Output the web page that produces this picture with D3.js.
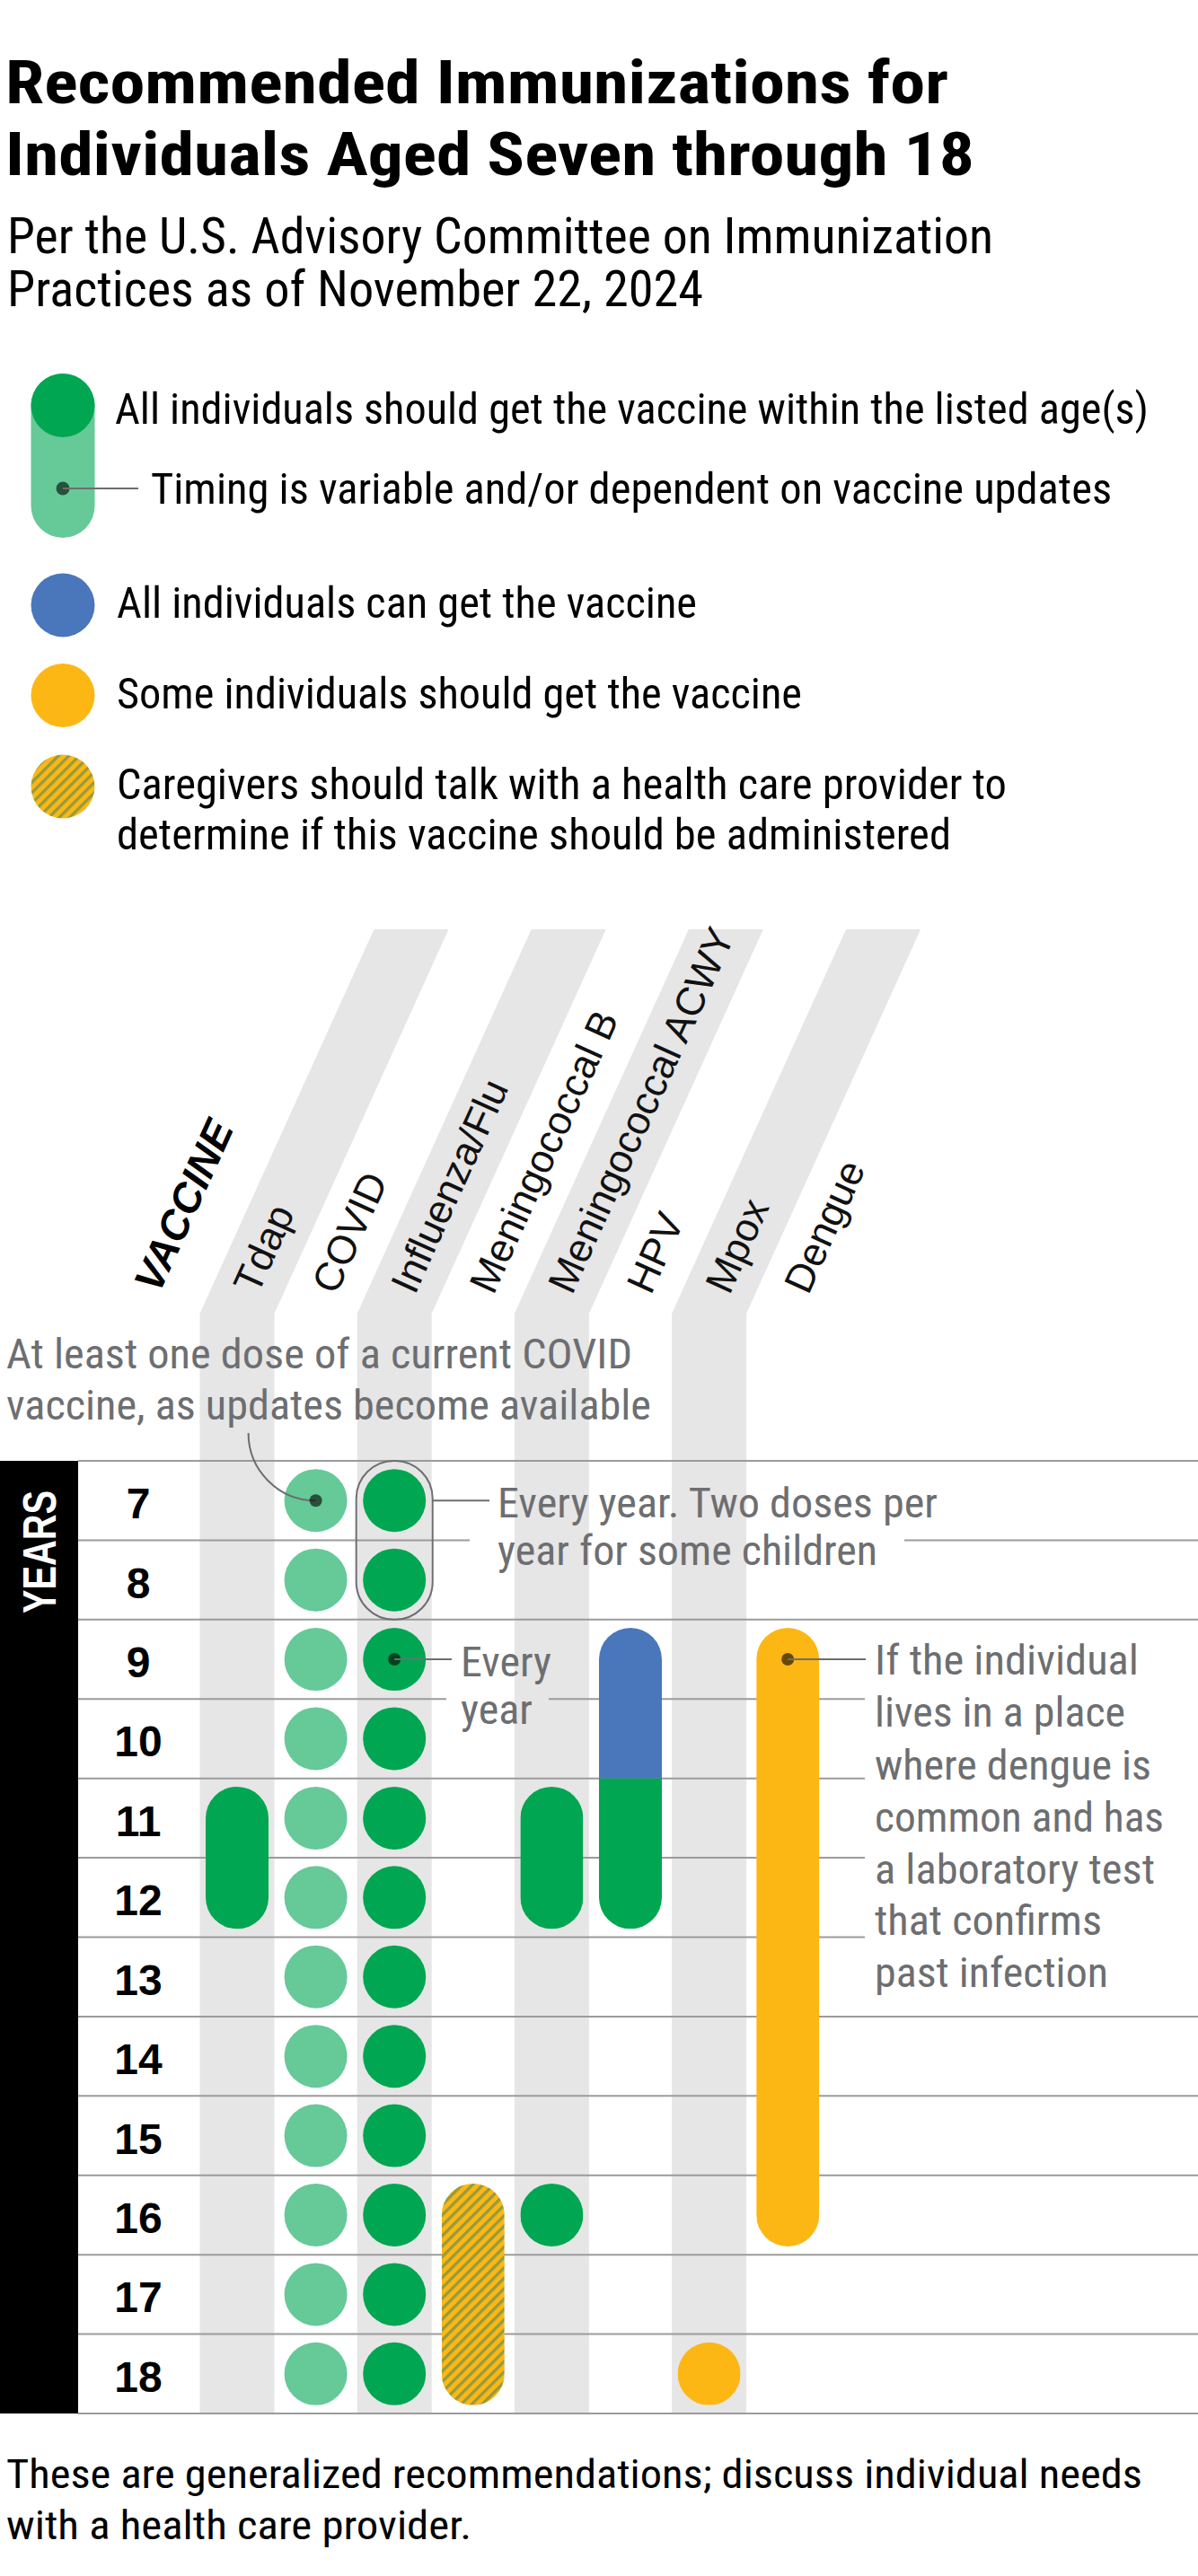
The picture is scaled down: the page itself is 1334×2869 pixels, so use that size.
<!DOCTYPE html>
<html>
<head>
<meta charset="utf-8">
<script src="https://cdn.jsdelivr.net/npm/d3@7"></script>
<style>
  body { margin: 0; background: #fff; }
  svg { display: block; }
</style>
</head>
<body>
<svg id="chart" width="1334" height="2869"></svg>
<script>
// ---------------- DATA ----------------
const vaccines = ["Tdap", "COVID", "Influenza/Flu", "Meningococcal B", "Meningococcal ACWY", "HPV", "Mpox", "Dengue"];
const ages = [7, 8, 9, 10, 11, 12, 13, 14, 15, 16, 17, 18];

// single-year doses shown as separate circles
const covidAges = [7, 8, 9, 10, 11, 12, 13, 14, 15, 16, 17, 18];   // status: variable
const fluAges   = [7, 8, 9, 10, 11, 12, 13, 14, 15, 16, 17, 18];   // status: should

// age ranges shown as pills (segments share one pill)
const schedule = [
  { vaccine: "Tdap",               segments: [{ from: 11, to: 12, status: "should" }] },
  { vaccine: "Meningococcal B",    segments: [{ from: 16, to: 18, status: "discuss" }] },
  { vaccine: "Meningococcal ACWY", segments: [{ from: 11, to: 12, status: "should" }] },
  { vaccine: "Meningococcal ACWY", segments: [{ from: 16, to: 16, status: "should" }] },
  { vaccine: "HPV",                segments: [{ from: 9, to: 10, status: "can" }, { from: 11, to: 12, status: "should" }] },
  { vaccine: "Mpox",               segments: [{ from: 18, to: 18, status: "some" }] },
  { vaccine: "Dengue",             segments: [{ from: 9, to: 16, status: "some" }] }
];

const legendItems = [
  { status: "should",   lines: ["All individuals should get the vaccine within the listed age(s)"] },
  { status: "variable", lines: ["Timing is variable and/or dependent on vaccine updates"] },
  { status: "can",      lines: ["All individuals can get the vaccine"] },
  { status: "some",     lines: ["Some individuals should get the vaccine"] },
  { status: "discuss",  lines: ["Caregivers should talk with a health care provider to", "determine if this vaccine should be administered"] }
];

const titleLines = ["Recommended Immunizations for", "Individuals Aged Seven through 18"];
const subtitleLines = ["Per the U.S. Advisory Committee on Immunization", "Practices as of November 22, 2024"];
const footnoteLines = ["These are generalized recommendations; discuss individual needs", "with a health care provider."];
const axisTitles = { columns: "VACCINE", rows: "YEARS" };

const annotations = [
  { id: "covid",    vaccine: "COVID",         age: 7, lines: ["At least one dose of a current COVID", "vaccine, as updates become available"] },
  { id: "fluTwo",   vaccine: "Influenza/Flu", age: 7, lines: ["Every year. Two doses per", "year for some children"] },
  { id: "fluEvery", vaccine: "Influenza/Flu", age: 9, lines: ["Every", "year"] },
  { id: "dengue",   vaccine: "Dengue",        age: 9, lines: ["If the individual", "lives in a place", "where dengue is", "common and has", "a laboratory test", "that confirms", "past infection"] }
];

// ---------------- STYLE / LAYOUT ----------------
const colors = {
  should: "#00a651", variable: "#66c998", can: "#4a77bb", some: "#fdb714",
  discuss: "url(#hatch)", hatchStripe: "#969b3c",
  band: "#e6e6e6", grid: "#9b9b9b", note: "#6d6e71", ink: "#000"
};
const condensed = "'Roboto Condensed', Roboto, 'Liberation Sans', sans-serif";
const grotesk = "'Liberation Sans', Arial, Helvetica, sans-serif";

const R = 35;
const slant = { top: 1035, bottom: 1463, dx: 194 };
const bandW = 83;

const layout = {
  title: { x: 6, y: [115, 195], size: 67, w: [1050, 1079] },
  subtitle: { x: 8, y: [281.5, 341], size: 56, w: [1098, 775] },
  legend: {
    cx: 70, r: 35.5,
    text: [
      { x: 128, y: [471.5], w: [1151] },
      { x: 168, y: [561], w: [1070] },
      { x: 130, y: [688], w: [646] },
      { x: 130, y: [789], w: [763] },
      { x: 130, y: [890, 945.5], w: [991, 929] }
    ],
    shapeY: { pillTop: 416, pillBottom: 599, should: 451.5, dot: 544, can: 674, some: 774.5, discuss: 876 },
    size: 48.5
  },
  notes: {
    covid:    { x: 7,   y: [1524, 1581], w: [697, 718] },
    fluTwo:   { x: 554, y: [1690, 1743], w: [490, 423] },
    fluEvery: { x: 513, y: [1867, 1920], w: [101, 80] },
    dengue:   { x: 974, y: [1865, 1923, 1982, 2040, 2098, 2155, 2213], w: [294, 279, 308, 322, 312, 253, 260] },
    size: 46.5
  },
  footnote: { x: 7, y: [2771, 2828], size: 44.5, w: [1265, 518] }
};

// ---------------- SCALES ----------------
const svg = d3.select("#chart");
const W = +svg.attr("width");

const x = d3.scaleBand().domain(vaccines).range([220.2, 220.2 + 87.6 * vaccines.length]);
const y = d3.scaleBand().domain(ages).range([1627, 2688]);
const xc = v => x(v) + x.bandwidth() / 2;
const yc = a => y(a) + y.bandwidth() / 2;
const yEnd = y.range()[1];
const gridLeft = 87;

// ---------------- DEFS ----------------
const defs = svg.append("defs");
const hp = 8.2;
const hatch = defs.append("pattern").attr("id", "hatch")
  .attr("patternUnits", "userSpaceOnUse").attr("width", hp).attr("height", hp)
  .attr("patternTransform", "rotate(45)");
hatch.append("rect").attr("width", hp).attr("height", hp).attr("fill", colors.some);
hatch.append("rect").attr("width", 3.3).attr("height", hp).attr("fill", colors.hatchStripe);

// mask that opens gaps in grid lines behind annotation text
const mask = defs.append("mask").attr("id", "gridMask").attr("maskUnits", "userSpaceOnUse")
  .attr("x", 0).attr("y", 0).attr("width", W).attr("height", 2869);
mask.append("rect").attr("width", W).attr("height", 2869).attr("fill", "#fff");
const gaps = [
  [523, y(8) - 10, 1007 - 523, 20],
  [497, y(10) - 10, 611 - 497, 20],
  [963, y(10) - 20, W - 963, y(14) - y(10)]
];
gaps.forEach(g => mask.append("rect").attr("x", g[0]).attr("y", g[1]).attr("width", g[2]).attr("height", g[3]).attr("fill", "#000"));

// ---------------- TEXT HELPER ----------------
function addText(parent, str, px, py, o) {
  const t = parent.append("text").attr("x", px).attr("y", py).text(str)
    .attr("font-family", o.family || condensed)
    .attr("font-size", o.size)
    .attr("font-weight", o.weight || 400)
    .attr("fill", o.fill || colors.ink);
  if (o.w) t.attr("textLength", o.w).attr("lengthAdjust", "spacingAndGlyphs");
  if (o.anchor) t.attr("text-anchor", o.anchor);
  if (o.style) t.attr("font-style", o.style);
  return t;
}

// ---------------- COLUMN BANDS ----------------
const bandG = svg.append("g");
vaccines.forEach((v, i) => {
  if (i % 2 !== 0) return;
  const x0 = xc(v) - bandW / 2, x1 = xc(v) + bandW / 2;
  const pts = [[x0 + slant.dx, slant.top], [x1 + slant.dx, slant.top], [x1, slant.bottom], [x1, yEnd], [x0, yEnd], [x0, slant.bottom]];
  bandG.append("polygon").attr("points", pts.map(p => p.join(",")).join(" ")).attr("fill", colors.band);
});

// ---------------- COLUMN LABELS ----------------
const ang = Math.atan2(slant.bottom - slant.top, slant.dx) * 180 / Math.PI; // ~65.6
const lean = slant.dx / (slant.bottom - slant.top);
const labelY = 1438;
const labelG = svg.append("g");
vaccines.forEach(v => {
  const lx = xc(v) + (slant.bottom - labelY) * lean;
  labelG.append("text")
    .attr("transform", `translate(${lx},${labelY}) rotate(${-ang})`)
    .attr("dy", "0.28em")
    .attr("font-family", grotesk).attr("font-size", 44.5).attr("fill", "#111")
    .text(v);
});
{
  const vx = xc(vaccines[0]) - x.step();
  const vy = 1442;
  const lx = vx + (slant.bottom - vy) * lean;
  labelG.append("text")
    .attr("transform", `translate(${lx - 9},${vy}) rotate(${-ang})`)
    .attr("font-family", grotesk).attr("font-size", 46).attr("font-weight", 700).attr("font-style", "italic")
    .attr("fill", colors.ink).text(axisTitles.columns);
}

// ---------------- GRID ----------------
const gridG = svg.append("g").attr("mask", "url(#gridMask)");
const bounds = ages.map(a => y(a)).concat([yEnd]);
gridG.selectAll("line").data(bounds).join("line")
  .attr("x1", gridLeft).attr("x2", W).attr("y1", d => d).attr("y2", d => d)
  .attr("stroke", colors.grid).attr("stroke-width", 2);

// ---------------- ROW AXIS ----------------
svg.append("rect").attr("x", 0).attr("y", y.range()[0]).attr("width", gridLeft).attr("height", yEnd - y.range()[0]).attr("fill", "#000");
svg.append("text")
  .attr("transform", `translate(62,${y.range()[0] + 170}) rotate(-90)`)
  .attr("font-family", grotesk).attr("font-size", 51).attr("font-weight", 700).attr("fill", "#fff")
  .attr("textLength", 137).attr("lengthAdjust", "spacingAndGlyphs")
  .text(axisTitles.rows);
svg.append("g").selectAll("text").data(ages).join("text")
  .attr("x", 154).attr("y", d => yc(d) + 20).attr("text-anchor", "middle")
  .attr("font-family", grotesk).attr("font-size", 48).attr("font-weight", 700).attr("fill", "#000")
  .text(d => d);

// ---------------- MARKS ----------------
const markG = svg.append("g");
markG.selectAll("circle.covid").data(covidAges).join("circle").attr("class", "covid")
  .attr("cx", xc("COVID")).attr("cy", d => yc(d)).attr("r", R).attr("fill", colors.variable);
markG.selectAll("circle.flu").data(fluAges).join("circle").attr("class", "flu")
  .attr("cx", xc("Influenza/Flu")).attr("cy", d => yc(d)).attr("r", R).attr("fill", colors.should);

schedule.forEach((p, i) => {
  const segs = p.segments;
  const cx = xc(p.vaccine);
  const top = yc(segs[0].from) - R;
  const bottom = yc(segs[segs.length - 1].to) + R;
  const id = "pill" + i;
  defs.append("clipPath").attr("id", id).append("rect")
    .attr("x", cx - R).attr("y", top).attr("width", 2 * R).attr("height", bottom - top).attr("rx", R).attr("ry", R);
  const g = markG.append("g").attr("clip-path", `url(#${id})`);
  segs.forEach((s, j) => {
    const y0 = j === 0 ? top : y(s.from);
    const y1 = j === segs.length - 1 ? bottom : y(s.to) + y.bandwidth();
    g.append("rect").attr("x", cx - R).attr("y", y0).attr("width", 2 * R).attr("height", y1 - y0).attr("fill", colors[s.status]);
  });
});

// ---------------- ANNOTATIONS ----------------
const noteG = svg.append("g");
const dot = (px, py) => noteG.append("circle").attr("cx", px).attr("cy", py).attr("r", 7).attr("fill", "#000").attr("fill-opacity", 0.6);
const seg = (x1, y1, x2, y2) => noteG.append("line").attr("x1", x1).attr("y1", y1).attr("x2", x2).attr("y2", y2)
  .attr("stroke", colors.note).attr("stroke-width", 2);

annotations.forEach(a => {
  const L = layout.notes[a.id];
  const px = xc(a.vaccine), py = yc(a.age);
  if (a.id === "covid") {
    const sx = px - 75, sy = 1596;
    noteG.append("path").attr("d", `M${sx},${sy} A${px - sx},${py - sy} 0 0 0 ${px},${py}`)
      .attr("fill", "none").attr("stroke", colors.note).attr("stroke-width", 2);
    dot(px, py);
  } else if (a.id === "fluTwo") {
    noteG.append("rect").attr("x", px - 42.5).attr("y", y(a.age)).attr("width", 85).attr("height", 2 * y.bandwidth())
      .attr("rx", 42).attr("ry", 42).attr("fill", "none").attr("stroke", colors.note).attr("stroke-width", 2);
    seg(px + 42.5, py, L.x - 9, py);
  } else {
    dot(px, py);
    seg(px, py, L.x - 10, py);
  }
  a.lines.forEach((s, k) => addText(noteG, s, L.x, L.y[k], { size: layout.notes.size, fill: colors.note, w: L.w[k] }));
});

// ---------------- LEGEND ----------------
const lg = svg.append("g");
const LL = layout.legend, LS = LL.shapeY;
lg.append("rect").attr("x", LL.cx - LL.r).attr("y", LS.pillTop).attr("width", 2 * LL.r).attr("height", LS.pillBottom - LS.pillTop)
  .attr("rx", LL.r).attr("ry", LL.r).attr("fill", colors.variable);
lg.append("circle").attr("cx", LL.cx).attr("cy", LS.should).attr("r", LL.r).attr("fill", colors.should);
lg.append("circle").attr("cx", LL.cx).attr("cy", LS.dot).attr("r", 7.5).attr("fill", "#000").attr("fill-opacity", 0.6);
lg.append("line").attr("x1", LL.cx).attr("x2", 154).attr("y1", LS.dot).attr("y2", LS.dot).attr("stroke", colors.note).attr("stroke-width", 2);
["can", "some", "discuss"].forEach(s => lg.append("circle").attr("cx", LL.cx).attr("cy", LS[s]).attr("r", LL.r).attr("fill", colors[s]));
legendItems.forEach((it, i) => {
  const T = LL.text[i];
  it.lines.forEach((s, k) => addText(lg, s, T.x, T.y[k], { size: LL.size, w: T.w[k], fill: "#000" }));
});

// ---------------- TITLES ----------------
titleLines.forEach((s, i) => addText(svg, s, layout.title.x, layout.title.y[i], { size: layout.title.size, weight: 700, w: layout.title.w[i] }));
subtitleLines.forEach((s, i) => addText(svg, s, layout.subtitle.x, layout.subtitle.y[i], { size: layout.subtitle.size, weight: 400, w: layout.subtitle.w[i] }));
footnoteLines.forEach((s, i) => addText(svg, s, layout.footnote.x, layout.footnote.y[i], { size: layout.footnote.size, w: layout.footnote.w[i] }));
</script>
</body>
</html>
